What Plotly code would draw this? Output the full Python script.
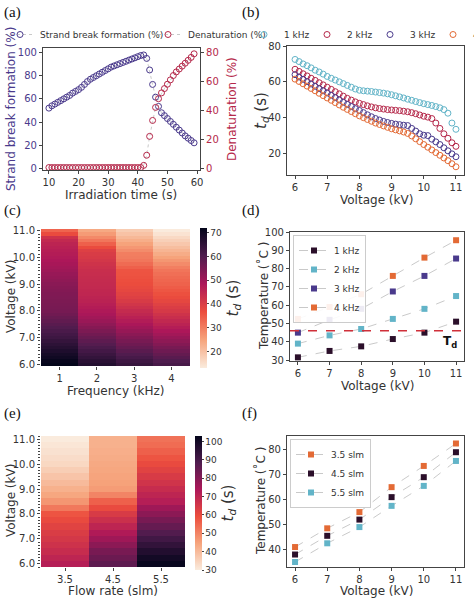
import plotly.graph_objects as go

W, H = 474, 599
def dx(a, b): return [a / W, b / W]
def dy(top, bot): return [1 - bot / H, 1 - top / H]

# ---------- data ----------
irr_time = list(range(10, 60))
strand_break = [52, 54, 55.5, 57, 58.5, 60, 61.5, 63, 65, 66.5, 68, 70, 72.5, 75, 77, 78.5, 80, 81.5, 83, 84.5,
                86, 87.5, 88.5, 89.5, 90.5, 91.5, 92.5, 93.5, 94.5, 95.5, 96.5, 97.5, 98, 95, 85, 72.5, 61.5, 53.5, 48, 45.5,
                43, 40.5, 38, 35.5, 33, 30.5, 28, 26, 24, 22]
denaturation = [0.5] * 32 + [2, 9, 22, 33, 42, 48, 52, 55, 58, 61, 64, 66.5, 68.5, 70.5, 72.5, 74.5, 76.5, 79]

volt_fine = [6 + 0.125 * i for i in range(41)]
td_1k = [72.5, 71.3, 70, 69, 67.8, 66.5, 65.5, 64.3, 63, 62, 61, 60, 59, 58, 57, 56, 55.3, 55, 54.8, 54.6, 54.3,
         54, 53.7, 53.3, 52.8, 52.2, 51.6, 51, 50.3, 49.7, 49, 48.4, 47.8, 47.3, 46.8, 46.2, 45.5, 44.5, 42.5, 37, 33.5]
td_2k = [67, 65.8, 64.5, 63.3, 62, 60.8, 59.5, 58.3, 57, 55.8, 54.5, 53.3, 52, 50.8, 49.8, 48.8, 48, 47.3, 46.6, 46,
         45.5, 45.1, 44.8, 44.5, 44.3, 44.1, 43.9, 43.6, 43.3, 42.8, 42.2, 41.5, 40.8, 40.3, 39.5, 37, 34, 31, 28.5, 26, 24]
td_3k = [64, 62.7, 61.4, 60.1, 58.8, 57.5, 56.2, 55, 53.8, 52.5, 51.2, 49.9, 48.6, 47.4, 46.2, 45, 44, 42.8, 41.6, 40.5,
         39.5, 38.7, 37.9, 37.3, 36.8, 36.4, 36.1, 35.8, 35.6, 34, 32.5, 31, 30.2, 30, 28, 26.5, 25, 23.2, 21.5, 19.8, 18.2]
td_4k = [61.5, 60.2, 58.9, 57.6, 56.3, 55, 53.6, 52.3, 51, 49.7, 48.4, 47.1, 45.8, 44.6, 43.4, 42.2, 41, 40, 39, 38,
         37, 36.2, 35.4, 34.6, 33.8, 33.2, 32.6, 32, 31.2, 29.8, 28.2, 26.6, 25, 23.5, 22, 20.5, 19, 17.5, 16, 14.3, 12.6]
freqs = [1, 2, 3, 4]

volt_e = [6 + 0.25 * i for i in range(21)]
td_35 = [72, 70, 68, 66.5, 65, 63.5, 62, 60, 58, 52, 47, 44, 42, 40, 38, 36, 34, 33, 32, 31, 30]
td_45 = [86, 84, 82, 79, 76, 73, 70, 67, 64, 60, 56, 50, 46, 45, 44.5, 44, 43.5, 43, 42.5, 42, 42]
td_55 = [102, 100, 97, 94, 91, 88, 85, 82, 79, 76, 72, 70, 68, 66, 64, 62, 60, 58, 56, 54, 53]
flows = [3.5, 4.5, 5.5]

volt = [6, 7, 8, 9, 10, 11]
temp_1k = [31.5, 35, 37.5, 41.5, 45, 51]
temp_2k = [39, 43.5, 47, 52.5, 58, 65]
temp_3k = [45, 52, 58, 67.5, 76, 85.5]
temp_4k = [52.5, 59, 66, 76, 86, 95.5]
td_temp = 46
temp_35 = [41, 48.5, 55, 65, 73.5, 82.5]
temp_45 = [38, 45.5, 52, 61, 69, 79]
temp_55 = [35, 42.5, 49, 57.5, 65.5, 75.5]

# ---------- style ----------
FONT = "DejaVu Sans"
PURPLE = "#4a3a8c"; CRIMSON = "#b5284a"; TEAL = "#62b4c8"; ORANGE = "#e36a35"; DARK = "#2b0f2a"
rocket_r = [[0, "#faebdd"], [0.2, "#f6a47c"], [0.4, "#ec4d3d"], [0.6, "#ad1759"], [0.8, "#4f1c4e"], [1, "#03051a"]]

fig = go.Figure()
ax = dict(showline=True, mirror=True, linecolor="#444", linewidth=1.2, ticks="outside", ticklen=3,
          tickfont=dict(size=10, color="#333"), showgrid=False, zeroline=False, automargin=False)

# (a)
fig.add_trace(go.Scatter(x=irr_time, y=strand_break, mode="lines+markers", name="Strand break formation (%)",
                         line=dict(color="#bbb", width=0.8, dash="dot"),
                         marker=dict(symbol="circle-open", size=6, color=PURPLE), xaxis="x", yaxis="y", legend="legend"))
fig.add_trace(go.Scatter(x=irr_time, y=denaturation, mode="lines+markers", name="Denaturation (%)",
                         line=dict(color="#bbb", width=0.8, dash="dot"),
                         marker=dict(symbol="circle-open", size=6, color=CRIMSON), xaxis="x", yaxis="y7", legend="legend"))
# (b)
for nm, ys, c in [("1 kHz", td_1k, TEAL), ("2 kHz", td_2k, CRIMSON), ("3 kHz", td_3k, PURPLE), ("4 kHz", td_4k, ORANGE)]:
    fig.add_trace(go.Scatter(x=volt_fine, y=ys, mode="markers", name=nm,
                             marker=dict(symbol="circle-open", size=6, color=c), xaxis="x2", yaxis="y2", legend="legend2"))
# (c)
fig.add_trace(go.Heatmap(x=freqs, y=volt_fine, z=[list(r) for r in zip(td_1k, td_2k, td_3k, td_4k)],
                         colorscale=rocket_r, zmin=13, zmax=72, xaxis="x3", yaxis="y3",
                         colorbar=dict(xref="container", yref="container", x=200 / W, xanchor="left",
                                       y=1 - 228 / H, yanchor="top", len=140 / H, lenmode="fraction",
                                       thickness=7, outlinewidth=0, tickfont=dict(size=9), tickvals=[20, 30, 40, 50, 60, 70],
                                       ticks="outside", ticklen=2, xpad=0, ypad=0,
                                       title=dict(text="<i>t<sub>d</sub></i> (s)", side="right", font=dict(size=15)))))
# (d)
for nm, ys, c in [("1 kHz", temp_1k, DARK), ("2 kHz", temp_2k, TEAL), ("3 kHz", temp_3k, PURPLE), ("4 kHz", temp_4k, ORANGE)]:
    fig.add_trace(go.Scatter(x=volt, y=ys, mode="lines+markers", name=nm, line=dict(color="#bbb", width=0.8, dash="dash"),
                             marker=dict(symbol="square", size=6, color=c), xaxis="x4", yaxis="y4", legend="legend3"))
fig.add_trace(go.Scatter(x=[5.75, 11.25], y=[td_temp, td_temp], mode="lines", line=dict(color="#d0303a", width=1.5, dash="dash"),
                         showlegend=False, xaxis="x4", yaxis="y4", hoverinfo="skip"))
# (e)
fig.add_trace(go.Heatmap(x=flows, y=volt_e, z=[list(r) for r in zip(td_35, td_45, td_55)],
                         colorscale=rocket_r, zmin=30, zmax=103, xaxis="x5", yaxis="y5",
                         colorbar=dict(xref="container", yref="container", x=195 / W, xanchor="left",
                                       y=1 - 436 / H, yanchor="top", len=134 / H, lenmode="fraction",
                                       thickness=7, outlinewidth=0, tickfont=dict(size=9), ticks="outside", ticklen=2,
                                       xpad=0, ypad=0, tickvals=[30, 40, 50, 60, 70, 80, 90, 100],
                                       title=dict(text="<i>t<sub>d</sub></i> (s)", side="right", font=dict(size=15)))))
# (f)
for nm, ys, c in [("3.5 slm", temp_35, ORANGE), ("4.5 slm", temp_45, DARK), ("5.5 slm", temp_55, TEAL)]:
    fig.add_trace(go.Scatter(x=volt, y=ys, mode="lines+markers", name=nm, line=dict(color="#bbb", width=0.8, dash="dash"),
                             marker=dict(symbol="square", size=6, color=c), xaxis="x6", yaxis="y6", legend="legend4"))

leg_in = dict(font=dict(size=9, color="#333"), bgcolor="rgba(255,255,255,0.9)", bordercolor="#ccc", borderwidth=1,
              xanchor="left", yanchor="top", tracegroupgap=0, itemwidth=30, xref="container", yref="container")

fig.update_layout(
    width=W, height=H, margin=dict(l=0, r=0, t=0, b=0, autoexpand=False), plot_bgcolor="white", paper_bgcolor="white",
    font=dict(family=FONT, size=10, color="#333"),
    xaxis=dict(ax, domain=dx(43, 200), anchor="y", range=[8, 61], tickvals=[10, 20, 30, 40, 50, 60]),
    yaxis=dict(ax, domain=dy(48, 170), anchor="x", range=[-1.5, 104], tickvals=[0, 20, 40, 60, 80, 100],
               tickfont=dict(size=10, color=PURPLE)),
    yaxis7=dict(ax, overlaying="y", side="right", anchor="x", range=[-1.2, 83], tickvals=[0, 20, 40, 60, 80],
                tickfont=dict(size=10, color=CRIMSON), mirror=False),
    xaxis2=dict(ax, domain=dx(287, 464), anchor="y2", range=[5.75, 11.25], tickvals=[6, 7, 8, 9, 10, 11]),
    yaxis2=dict(ax, domain=dy(46, 175), anchor="x2", range=[8, 80], tickvals=[20, 40, 60, 80]),
    xaxis3=dict(ax, domain=dx(41, 190), anchor="y3", tickvals=freqs, mirror=False, showline=False),
    yaxis3=dict(ax, domain=dy(229, 366), anchor="x3", tickvals=[6, 7, 8, 9, 10, 11], tickformat=".1f",
                mirror=False, showline=False, minor=dict(ticks="outside", ticklen=2, dtick=0.125)),
    xaxis4=dict(ax, domain=dx(290, 464), anchor="y4", range=[5.75, 11.25], tickvals=volt),
    yaxis4=dict(ax, domain=dy(232, 361), anchor="x4", range=[29.5, 100], tickvals=[30, 40, 50, 60, 70, 80, 90, 100]),
    xaxis5=dict(ax, domain=dx(41, 185), anchor="y5", tickvals=flows, mirror=False, showline=False),
    yaxis5=dict(ax, domain=dy(436, 567), anchor="x5", tickvals=[6, 7, 8, 9, 10, 11], tickformat=".1f",
                mirror=False, showline=False, minor=dict(ticks="outside", ticklen=2, dtick=0.125)),
    xaxis6=dict(ax, domain=dx(287, 464), anchor="y6", range=[5.75, 11.25], tickvals=volt),
    yaxis6=dict(ax, domain=dy(436, 567), anchor="x6", range=[33, 85.5], tickvals=[40, 50, 60, 70, 80]),
    legend=dict(orientation="h", x=0, y=1 - 20 / H, xanchor="left", yanchor="top", font=dict(size=9, color="#333"),
                bgcolor="rgba(0,0,0,0)", entrywidth=103, entrywidthmode="pixels", xref="container", yref="container"),
    legend2=dict(orientation="h", x=244 / W, y=1 - 20 / H, xanchor="left", yanchor="top", font=dict(size=9, color="#333"),
                 bgcolor="rgba(0,0,0,0)", entrywidth=18, entrywidthmode="pixels", xref="container", yref="container"),
    legend3=dict(leg_in, x=293 / W, y=1 - 235 / H),
    legend4=dict(leg_in, x=290 / W, y=1 - 439 / H),
)

labels = [("(a)", 2, 2), ("(b)", 240, 2), ("(c)", 2, 200), ("(d)", 240, 200), ("(e)", 2, 403), ("(f)", 240, 403)]
for t, x, y in labels:
    fig.add_annotation(text=t, x=x / W, y=1 - y / H, xref="paper", yref="paper", xanchor="left", yanchor="top",
                       showarrow=False, font=dict(family="Liberation Serif", size=15, color="#111"))

titles = [("Strand break formation (%)", 11, 109, PURPLE, 12, -90),
          ("Denaturation (%)", 232, 109, CRIMSON, 12, -90),
          ("<i>t<sub>d</sub></i> (s)", 261, 111, "#333", 15, -90),
          ("Voltage (kV)", 11, 297, "#333", 12, -90),
          ("Temperature (˚C )", 263, 296, "#333", 12, -90),
          ("Voltage (kV)", 11, 501, "#333", 12, -90),
          ("Temperature (˚C )", 260, 501, "#333", 12, -90),
          ("Irradiation time (s)", 121, 195, "#333", 12, 0),
          ("Voltage (kV)", 376, 200, "#333", 12, 0),
          ("Frequency (kHz)", 115, 391, "#333", 12, 0),
          ("Voltage (kV)", 377, 386, "#333", 12, 0),
          ("Flow rate (slm)", 113, 591, "#333", 12, 0),
          ("Voltage (kV)", 376, 591, "#333", 12, 0)]
for t, x, y, c, s, a in titles:
    fig.add_annotation(text=t, x=x / W, y=1 - y / H, xref="paper", yref="paper", xanchor="center", yanchor="middle",
                       textangle=a, showarrow=False, font=dict(size=s, color=c))
fig.add_annotation(text="<b>T<sub>d</sub></b>", x=11.1, y=40, xref="x4", yref="y4", showarrow=False,
                   xanchor="right", font=dict(size=12, color="#111"))

fig.write_html("out.html", config={"displayModeBar": False}, post_script="document.body.style.margin='0';")
